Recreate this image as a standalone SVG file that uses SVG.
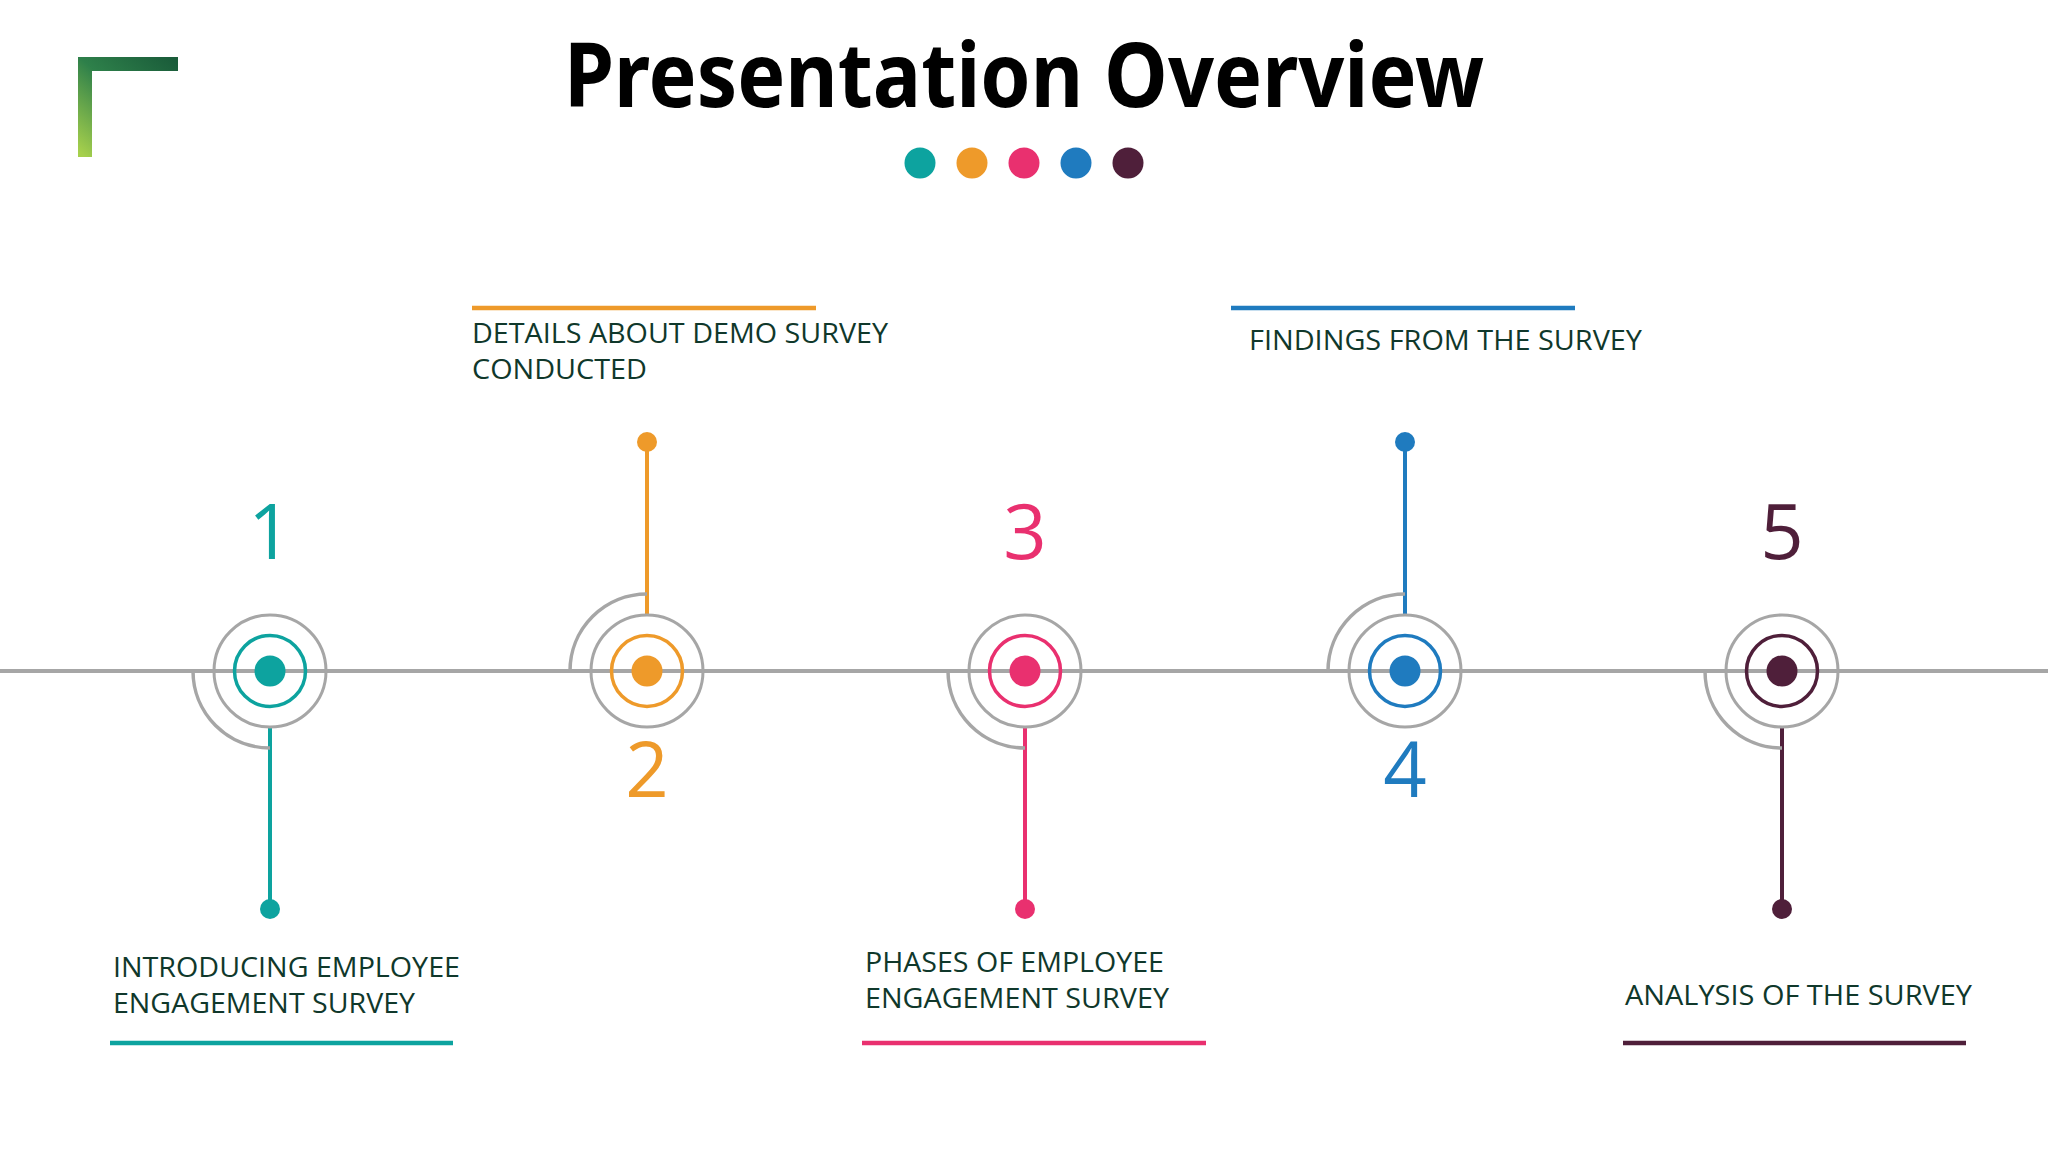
<svg xmlns="http://www.w3.org/2000/svg" width="2048" height="1152" viewBox="0 0 2048 1152">
<defs>
<linearGradient id="brk" gradientUnits="userSpaceOnUse" x1="170" y1="57" x2="85" y2="157">
<stop offset="0" stop-color="#1a5c3a"/>
<stop offset="0.45" stop-color="#2e804a"/>
<stop offset="1" stop-color="#a6d04c"/>
</linearGradient>
<style>
.lbl{font-family:"Open Sans","Noto Sans","Liberation Sans",sans-serif;font-size:27px;fill:#10382b;}
.num{font-family:"Open Sans","Noto Sans","Liberation Sans",sans-serif;font-size:76px;text-anchor:middle;}
.outer{fill:#ffffff;stroke:#a6a6a6;stroke-width:3;}
.arc{fill:none;stroke:#a6a6a6;stroke-width:3.5;}
.ring{fill:none;stroke-width:3.5;}
.stem{stroke-width:4;fill:none;}
.ul{stroke-width:4.5;}
</style>
</defs>
<rect width="2048" height="1152" fill="#ffffff"/>
<path d="M78 57 H178 V71 H92 V157 H78 Z" fill="url(#brk)"/>
<text x="1024" y="107" text-anchor="middle" font-family="'Noto Sans','Open Sans','Liberation Sans',sans-serif" font-weight="bold" font-size="90" fill="#000" textLength="920" lengthAdjust="spacingAndGlyphs">Presentation Overview</text>
<g id="legend-dots">
<circle cx="920" cy="163" r="15.5" fill="#0da39f"/>
<circle cx="972" cy="163" r="15.5" fill="#ee9a2a"/>
<circle cx="1024" cy="163" r="15.5" fill="#e9306f"/>
<circle cx="1076" cy="163" r="15.5" fill="#1f7bbf"/>
<circle cx="1128" cy="163" r="15.5" fill="#4f1f3a"/>
</g>
<g id="connectors">
<line x1="0" y1="671" x2="2048" y2="671" stroke="#a6a6a6" stroke-width="4"/>
<line class="stem" x1="270" y1="727" x2="270" y2="909" stroke="#0da39f"/>
<line class="stem" x1="647" y1="615" x2="647" y2="442" stroke="#ee9a2a"/>
<line class="stem" x1="1025" y1="727" x2="1025" y2="909" stroke="#e9306f"/>
<line class="stem" x1="1405" y1="615" x2="1405" y2="442" stroke="#1f7bbf"/>
<line class="stem" x1="1782" y1="727" x2="1782" y2="909" stroke="#4f1f3a"/>
</g>
<g id="node1">
<path class="arc" d="M193 671 A77 77 0 0 0 270 748"/>
<circle class="outer" cx="270" cy="671" r="56" fill-opacity="0"/>
<circle class="ring" cx="270" cy="671" r="35.5" stroke="#0da39f"/>
<circle cx="270" cy="671" r="15.5" fill="#0da39f"/>
<circle cx="270" cy="909" r="10" fill="#0da39f"/>
<text class="num" x="270" y="559" fill="#0da39f">1</text>
<text class="lbl" x="113" y="977" textLength="347" lengthAdjust="spacingAndGlyphs">INTRODUCING EMPLOYEE</text>
<text class="lbl" x="113" y="1013" textLength="302" lengthAdjust="spacingAndGlyphs">ENGAGEMENT SURVEY</text>
<line class="ul" x1="110" y1="1043" x2="453" y2="1043" stroke="#0da39f"/>
</g>
<g id="node2">
<path class="arc" d="M570 671 A77 77 0 0 1 647 594"/>
<circle class="outer" cx="647" cy="671" r="56" fill-opacity="0"/>
<circle class="ring" cx="647" cy="671" r="35.5" stroke="#ee9a2a"/>
<circle cx="647" cy="671" r="15.5" fill="#ee9a2a"/>
<circle cx="647" cy="442" r="10" fill="#ee9a2a"/>
<text class="num" x="647" y="797" fill="#ee9a2a">2</text>
<line class="ul" x1="472" y1="308" x2="816" y2="308" stroke="#ee9a2a"/>
<text class="lbl" x="472" y="343" textLength="416" lengthAdjust="spacingAndGlyphs">DETAILS ABOUT DEMO SURVEY</text>
<text class="lbl" x="472" y="379" textLength="175" lengthAdjust="spacingAndGlyphs">CONDUCTED</text>
</g>
<g id="node3">
<path class="arc" d="M948 671 A77 77 0 0 0 1025 748"/>
<circle class="outer" cx="1025" cy="671" r="56" fill-opacity="0"/>
<circle class="ring" cx="1025" cy="671" r="35.5" stroke="#e9306f"/>
<circle cx="1025" cy="671" r="15.5" fill="#e9306f"/>
<circle cx="1025" cy="909" r="10" fill="#e9306f"/>
<text class="num" x="1025" y="559" fill="#e9306f">3</text>
<text class="lbl" x="865" y="972" textLength="299" lengthAdjust="spacingAndGlyphs">PHASES OF EMPLOYEE</text>
<text class="lbl" x="865" y="1008" textLength="304" lengthAdjust="spacingAndGlyphs">ENGAGEMENT SURVEY</text>
<line class="ul" x1="862" y1="1043" x2="1206" y2="1043" stroke="#e9306f"/>
</g>
<g id="node4">
<path class="arc" d="M1328 671 A77 77 0 0 1 1405 594"/>
<circle class="outer" cx="1405" cy="671" r="56" fill-opacity="0"/>
<circle class="ring" cx="1405" cy="671" r="35.5" stroke="#1f7bbf"/>
<circle cx="1405" cy="671" r="15.5" fill="#1f7bbf"/>
<circle cx="1405" cy="442" r="10" fill="#1f7bbf"/>
<text class="num" x="1405" y="797" fill="#1f7bbf">4</text>
<line class="ul" x1="1231" y1="308" x2="1575" y2="308" stroke="#1f7bbf"/>
<text class="lbl" x="1249" y="350" textLength="393" lengthAdjust="spacingAndGlyphs">FINDINGS FROM THE SURVEY</text>
</g>
<g id="node5">
<path class="arc" d="M1705 671 A77 77 0 0 0 1782 748"/>
<circle class="outer" cx="1782" cy="671" r="56" fill-opacity="0"/>
<circle class="ring" cx="1782" cy="671" r="35.5" stroke="#4f1f3a"/>
<circle cx="1782" cy="671" r="15.5" fill="#4f1f3a"/>
<circle cx="1782" cy="909" r="10" fill="#4f1f3a"/>
<text class="num" x="1782" y="559" fill="#4f1f3a">5</text>
<text class="lbl" x="1625" y="1005" textLength="347" lengthAdjust="spacingAndGlyphs">ANALYSIS OF THE SURVEY</text>
<line class="ul" x1="1623" y1="1043" x2="1966" y2="1043" stroke="#4f1f3a"/>
</g>
</svg>
